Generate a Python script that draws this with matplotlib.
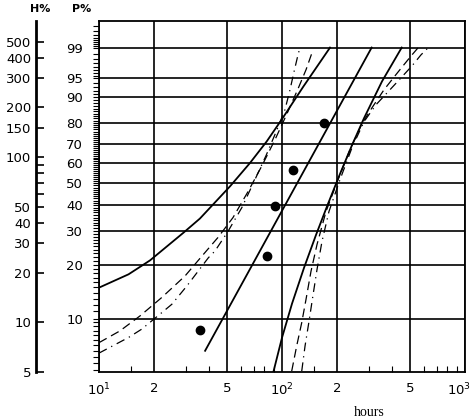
import numpy as np
import matplotlib
matplotlib.use('Agg')
import matplotlib.pyplot as plt

plt.rcParams['font.family'] = 'DejaVu Sans'

# axis scales
p_grid = [99, 95, 90, 80, 70, 60, 50, 40, 30, 20, 10]
h_ticks = [500, 400, 300, 200, 150, 100, 50, 40, 30, 20, 10, 5]
h_minor = [60, 70, 80, 90]
x_major = [10, 20, 50, 100, 200, 500, 1000]
x_labels = ['$10^1$', '2', '5', '$10^2$', '2', '5', '$10^3$']
x_minor = [15, 30, 40, 60, 70, 80, 90, 150, 300, 400, 600, 700, 800, 900]

# observed failures
pts_hours = [35.6, 82.5, 91.6, 115.3, 169.7]
pts_p = [8.6, 22.3, 39.9, 56.5, 80.0]

# fitted line
fit_hours = [38, 309]
fit_p = [6.5, 99.0]

# solid bounds
lo_hours = [10, 14.5, 19.0, 28.9, 35.6, 52.0, 66.9, 82.5, 99.6, 130.8, 183]
lo_p = [14.96, 17.73, 21.1, 29.4, 34.6, 48.6, 60.25, 71.2, 81.5, 93.1, 99.0]
hi_hours = [89.6, 100, 113.4, 131.9, 153.4, 178.4, 207.5, 241.3, 280.6, 351.9, 451]
hi_p = [4.85, 7.75, 12.15, 19.23, 28.68, 40.64, 54.69, 69.33, 82.09, 94.35, 99.0]

# dashed / dash-dot bounds, left pair
lo_dash_hours = [10, 13.0, 16.75, 22.0, 29.5, 36.4, 44.7, 54.0, 65.2, 77.8, 91.6,
                 106.5, 122.3, 135.3, 147.7]
lo_dash_p = [7.25, 8.48, 10.35, 13.16, 17.35, 22.17, 27.85, 35.0, 46.1, 58.9, 72.1,
             84.0, 92.5, 96.6, 98.84]
lo_dd_hours = [10, 14.5, 17.1, 21.5, 25.0, 30.2, 39.6, 43.0, 50.7, 60.4, 71.2, 81.8,
               93.9, 103.8, 110.6, 116.3, 122.3, 125.4]
lo_dd_p = [6.3, 7.77, 8.68, 10.58, 12.06, 15.28, 21.8, 23.65, 29.9, 39.1, 51.9, 64.0,
           76.9, 85.6, 92.25, 96.25, 98.44, 99.0]

# dashed / dash-dot bounds, right pair
hi_dash_hours = [113, 120.3, 128.2, 135.3, 144, 155.4, 174, 202.3, 235.3, 273.6,
                 310.4, 360.9, 414.6, 458.4, 513.3, 553.5]
hi_dash_p = [4.94, 6.94, 9.48, 12.87, 18.4, 25.63, 37.42, 51.87, 67.04, 79.7,
             86.35, 92.25, 95.53, 97.18, 98.44, 98.98]
hi_dd_hours = [128.2, 133.6, 140.5, 147.7, 155.4, 165.4, 180.6, 207.5, 241.3, 280.6,
               326.4, 384.4, 447.1, 513.3, 574.8, 627.9]
hi_dd_p = [4.94, 6.92, 9.65, 13.56, 18.87, 26.56, 37.42, 51.87, 68.04, 80.57,
           87.46, 91.97, 95.12, 97.18, 98.44, 98.98]


def cum_h(p):
    # Weibull paper: plot cumulative hazard H% on a log axis
    p = np.asarray(p, dtype=float)
    return -np.log(1.0 - p / 100.0) * 100.0


H_MIN, H_MAX = 5, 667

fig = plt.figure(figsize=(4.74, 4.2), dpi=100)
ax = fig.add_axes([99 / 474, 48 / 420, 366 / 474, 351 / 420])
ax.set_xscale('log')
ax.set_yscale('log')
ax.set_xlim(10, 1000)
ax.set_ylim(H_MIN, H_MAX)

ax.set_xticks(x_major)
# last label is drawn separately, nudged so it stays inside the figure
ax.set_xticklabels(x_labels[:-1] + [''])
ax.set_xticks(x_minor, minor=True)
ax.xaxis.set_minor_formatter(plt.NullFormatter())
ax.annotate(x_labels[-1], xy=(x_major[-1], 0), xycoords=('data', 'axes fraction'),
            xytext=(-4, -7), textcoords='offset points', ha='center', va='top',
            fontsize=9.5)
ax.set_yticks(cum_h(p_grid))
ax.set_yticklabels([str(p) for p in p_grid])
p_minor = np.concatenate([np.arange(5, 10, 0.5), np.arange(10, 95, 1),
                          np.arange(95, 99, 0.5), np.arange(99, 99.85, 0.1)])
ax.set_yticks(cum_h(p_minor), minor=True)
ax.yaxis.set_minor_formatter(plt.NullFormatter())

ax.grid(True, which='major', color='black', lw=1.2)
ax.tick_params(axis='x', which='major', direction='in', length=0, pad=7,
               labelsize=9.5)
ax.tick_params(axis='x', which='minor', direction='in', length=4, width=0.8)
ax.tick_params(axis='y', which='both', direction='out', length=4, width=0.8,
               pad=7.5, labelsize=9.5)
for s in ax.spines.values():
    s.set_linewidth(1.3)

# curves
ax.plot(lo_hours, cum_h(lo_p), color='black', lw=1.3)
ax.plot(fit_hours, cum_h(fit_p), color='black', lw=1.3)
ax.plot(hi_hours, cum_h(hi_p), color='black', lw=1.3)
ax.plot(lo_dash_hours, cum_h(lo_dash_p), color='black', lw=0.9, ls=(0, (7, 4)))
ax.plot(lo_dd_hours, cum_h(lo_dd_p), color='black', lw=0.9, ls=(0, (7, 4, 1, 4)))
ax.plot(hi_dash_hours, cum_h(hi_dash_p), color='black', lw=0.9, ls=(0, (7, 4)))
ax.plot(hi_dd_hours, cum_h(hi_dd_p), color='black', lw=0.9, ls=(0, (7, 4, 1, 4)))
ax.plot(pts_hours, cum_h(pts_p), 'o', color='black', ms=6)

# cumulative hazard scale on the far left
axh = fig.add_axes([36 / 474, 48 / 420, 0.0005, 351 / 420])
axh.set_yscale('log')
axh.set_ylim(H_MIN, H_MAX)
axh.patch.set_visible(False)
axh.set_xticks([])
for side in ['top', 'right', 'bottom']:
    axh.spines[side].set_visible(False)
axh.spines['left'].set_linewidth(2)
axh.set_yticks(h_ticks)
axh.set_yticklabels([str(h) for h in h_ticks])
axh.set_yticks(h_minor, minor=True)
axh.yaxis.set_minor_formatter(plt.NullFormatter())
axh.tick_params(axis='y', which='both', direction='in', length=6, width=1.2,
                pad=3.5, labelsize=9.5)

fig.text(40 / 474, 1 - 9 / 420, 'H%', fontsize=8, fontweight='bold',
         ha='center', va='center')
fig.text(82 / 474, 1 - 9 / 420, 'P%', fontsize=8, fontweight='bold',
         ha='center', va='center')
fig.text(369 / 474, 1 - 412 / 420, 'hours', fontsize=10,
         family='Liberation Serif', ha='center', va='center')

fig.savefig('out.png', dpi=100)
